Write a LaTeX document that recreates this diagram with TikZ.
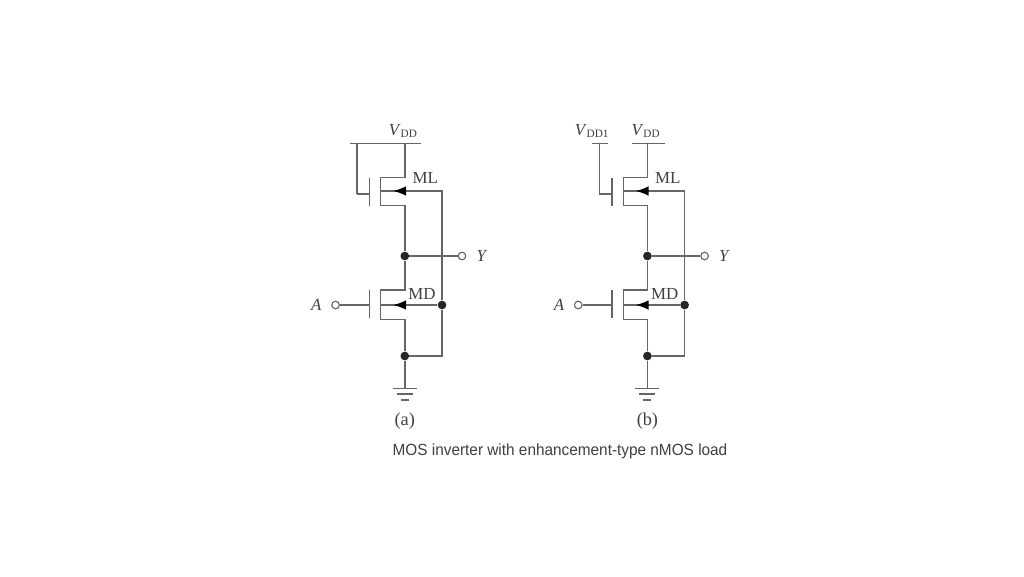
\documentclass[tikz,border=0pt]{standalone}
\usepackage{fontspec}
\setmainfont{Liberation Serif}
\newfontfamily\captionfont{Liberation Sans}
\usetikzlibrary{positioning,calc,arrows.meta}
\definecolor{wirecol}{gray}{0.4}
\definecolor{labelcol}{gray}{0.25}
\tikzset{
    wire/.style={line width=1pt, draw=wirecol},
    dot/.style={circle, fill=black!85, inner sep=0pt, minimum size=6.2pt},
    term/.style={circle, draw=wirecol, fill=white, line width=0.8pt, inner sep=0pt, minimum size=5.4pt},
    lbl/.style={text=labelcol, font=\fontsize{12}{14}\selectfont, inner sep=0pt},
    sublbl/.style={text=labelcol, font=\fontsize{13}{15}\selectfont, inner sep=0pt}
}
\begin{document}
\begin{tikzpicture}
    \useasboundingbox (0,0) rectangle (25.6,14.4);
    \fill[white] (0,0) rectangle (25.6,14.4);

    % Common part of both inverters
    \foreach \ckt/\tag/\xpos in {a/(a)/10.12, b/(b)/16.185} {
    \begin{scope}[shift={(\xpos,0)}, name prefix=\ckt-]
        \coordinate (top) at (0,10.81);
        \coordinate (ldrain) at (0,9.96);
        \coordinate (lsource) at (0,9.26);
        \coordinate (ddrain) at (0,7.15);
        \coordinate (dsource) at (0,6.41);
        \coordinate (lgate) at (-1.2,9.55);
        \coordinate (gnd) at (0,4.69);
        \coordinate (lbody) at (0.93,9.625);
        \node[dot] (out) at (0,8.0) {};
        \node[dot] (dbody) at (0.93,6.775) {};
        \node[dot] (src) at (0,5.5) {};
        \node[term] (y) at (1.43,8.0) {};
        \node[term] (in) at (-1.73,6.775) {};
        \node[lbl] (ylabel) at (1.93,8.0) {\textit{Y}};
        \node[lbl] (alabel) at (-2.21,6.775) {\textit{A}};
        \node[lbl] (ml) at (0.51,9.95) {ML};
        \node[lbl] (md) at (0.43,7.05) {MD};
        \node[sublbl] (tag) at (0,3.87) {\tag};

        % Load transistor
        \draw[wire] (-0.89,9.95) -- (-0.89,9.25);
        \draw[wire] (top) -- (ldrain) -- (-0.605,9.96) -- (-0.605,9.26) -- (lsource) -- (out);
        \draw[wire] (lgate) -- (-0.89,9.55);
        \draw[wire] (-0.605,9.625) -- (lbody) -- (dbody);
        \draw[wire, {Latex[length=3.2mm,width=2.4mm,color=black]}-] (-0.29,9.625) -- (0.3,9.625);

        % Driver transistor
        \draw[wire] (-0.89,7.15) -- (-0.89,6.45);
        \draw[wire] (out) -- (ddrain) -- (-0.605,7.15) -- (-0.605,6.41) -- (dsource) -- (src);
        \draw[wire] (in) -- (-0.89,6.775);
        \draw[wire] (-0.605,6.775) -- (dbody);
        \draw[wire, {Latex[length=3.2mm,width=2.4mm,color=black]}-] (-0.29,6.775) -- (0.3,6.775);
        \draw[wire] (dbody) |- (src);

        % Output
        \draw[wire] (out) -- (y);

        % Ground
        \draw[wire] (src) -- (gnd);
        \draw[wire] ($(gnd)+(-0.3,0)$) -- ($(gnd)+(0.3,0)$);
        \draw[wire] ($(gnd)+(-0.2,-0.14)$) -- ($(gnd)+(0.2,-0.14)$);
        \draw[wire] ($(gnd)+(-0.1,-0.29)$) -- ($(gnd)+(0.1,-0.29)$);
    \end{scope}
    }

    % Supply of (a)
    \draw[wire] (8.74,10.81) -- (10.53,10.81);
    \draw[wire] (a-lgate) -- (a-lgate |- a-top);
    \node[lbl] (vdda) at (10.08,11.13) {\textit{V}\textsubscript{DD}};

    % Supplies of (b)
    \draw[wire] (15.79,10.81) -- (16.63,10.81);
    \draw[wire] (14.8,10.81) -- (15.2,10.81);
    \draw[wire] (b-lgate) -- (b-lgate |- b-top);
    \node[lbl] (vddb) at (16.15,11.13) {\textit{V}\textsubscript{DD}};
    \node[lbl] (vddone) at (14.8,11.13) {\textit{V}\textsubscript{DD1}};

    % Caption
    \node[text=labelcol, inner sep=0pt, xscale=0.95, transform shape, font=\captionfont\fontsize{11.5}{14}\selectfont] (cap) at (14,3.11) {MOS inverter with enhancement-type nMOS load};
\end{tikzpicture}
\end{document}
